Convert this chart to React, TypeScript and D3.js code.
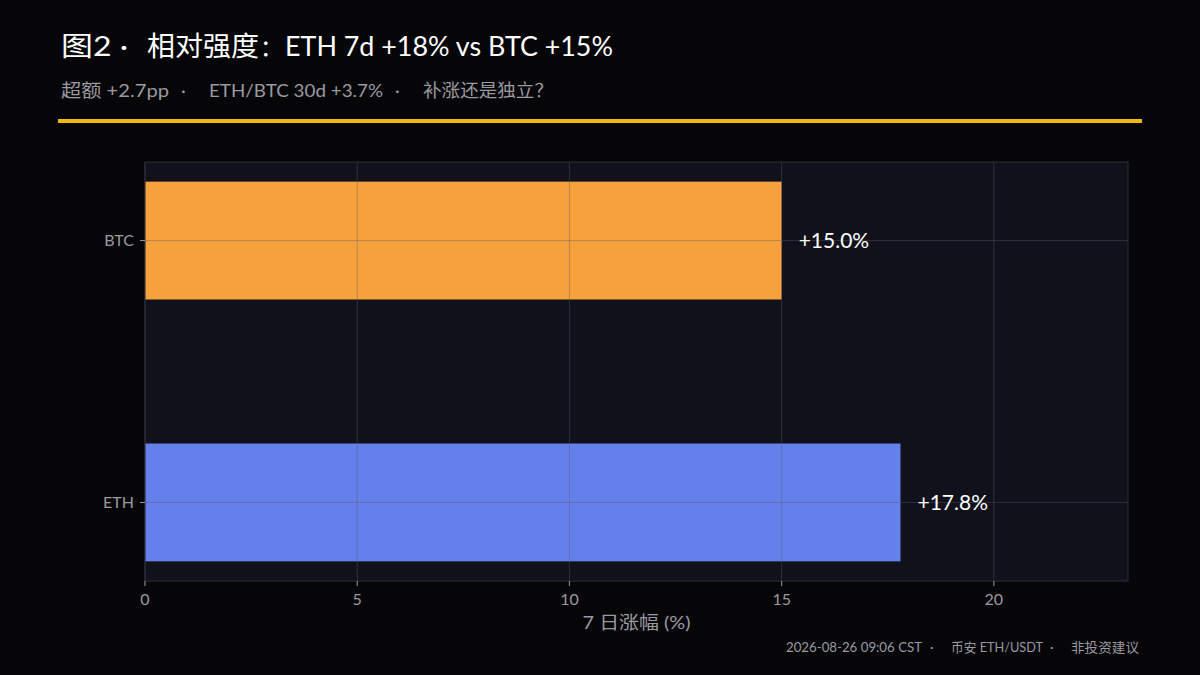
import React from "react";
import * as d3 from "d3";

const categories = ["ETH", "BTC"];
const values = [17.8, 15.0];
const barColors = ["#6580ea", "#f7a13d"];
const xTicks = [0, 5, 10, 15, 20];
const titleParts = ["图2 ·", "相对强度", "：", "ETH 7d +18% vs BTC +15%"];
const subtitleParts = ["超额 +2.7pp", "·", "ETH/BTC 30d +3.7%", "·", "补涨还是独立？"];
const xLabel = "7 日涨幅 (%)";
const footerParts = ["2026-08-26 09:06 CST", "·", "币安 ETH/USDT", "·", "非投资建议"];

const W = 1200;
const H = 675;
const FONT = "Lato, 'Noto Sans CJK SC', sans-serif";

// layout of text segments: [x, width, fontScale]
const titleLayout: [number, number, number][] = [[61, 67, 1], [147, 112, 1], [260, 0, 0.85], [285, 328, 1]];
const subLayout: [number, number, number][] = [[61, 108, 1], [181, 0, 1], [209, 174, 1], [395, 0, 1], [423, 130, 1]];
const footLayout: [number, number, number][] = [[786, 136, 1], [930, 0, 1], [951, 92, 1], [1050, 0, 1], [1071, 68, 1]];

function Segs({ parts, layout, y, size, fill }: { parts: string[]; layout: [number, number, number][]; y: number; size: number; fill: string }) {
  return (
    <g>
      {parts.map((p, i) => (
        <text key={i} x={layout[i][0]} y={y} fill={fill} fontSize={size * layout[i][2]} fontFamily={FONT}
          textLength={layout[i][1] > 0 ? layout[i][1] : undefined} lengthAdjust="spacingAndGlyphs">{p}</text>
      ))}
    </g>
  );
}

export default function App() {
  const left = 145, right = 1128, top = 162, bottom = 581;
  const x = d3.scaleLinear().domain([0, 23.16]).range([left, right]);
  const y = d3.scaleLinear().domain([-0.3, 1.3]).range([bottom, top]);
  const barH = 0.45;

  return (
    <svg width={W} height={H} style={{ position: "absolute", left: 0, top: 0, background: "#060608" }}>
      <rect x={0} y={0} width={W} height={H} fill="#060608" />
      <Segs parts={titleParts} layout={titleLayout} y={56} size={27} fill="#ffffff" />
      <Segs parts={subtitleParts} layout={subLayout} y={97} size={18} fill="#9a9aa0" />
      <rect x={58} y={119} width={1084} height={4} fill="#f0b90b" />

      <rect x={left} y={top} width={right - left} height={bottom - top} fill="#10111a" />
      {categories.map((c, i) => (
        <rect key={c} x={x(0)} y={y(i + barH / 2)} width={x(values[i]) - x(0)} height={y(i - barH / 2) - y(i + barH / 2)} fill={barColors[i]} />
      ))}
      {xTicks.map((t) => (
        <line key={"gx" + t} x1={x(t)} x2={x(t)} y1={top} y2={bottom} stroke="#5a5d70" strokeOpacity={0.4} strokeWidth={1} />
      ))}
      {categories.map((c, i) => (
        <line key={"gy" + c} x1={left} x2={right} y1={y(i)} y2={y(i)} stroke="#5a5d70" strokeOpacity={0.4} strokeWidth={1} />
      ))}
      <rect x={left} y={top} width={right - left} height={bottom - top} fill="none" stroke="#2c2e38" strokeWidth={1} />

      {xTicks.map((t) => (
        <g key={"xt" + t}>
          <line x1={x(t)} x2={x(t)} y1={bottom} y2={bottom + 5} stroke="#9a9aa0" />
          <text x={x(t)} y={bottom + 24} textAnchor="middle" fill="#9a9aa0" fontSize={16} fontFamily={FONT}>{t}</text>
        </g>
      ))}
      {categories.map((c, i) => (
        <g key={"yt" + c}>
          <line x1={left - 5} x2={left} y1={y(i)} y2={y(i)} stroke="#9a9aa0" />
          <text x={left - 11} y={y(i)} dy="0.35em" textAnchor="end" fill="#9a9aa0" fontSize={16} fontFamily={FONT}>{c}</text>
        </g>
      ))}
      {categories.map((c, i) => (
        <text key={"v" + c} x={x(values[i]) + 17} y={y(i)} dy="0.35em" fill="#ffffff" fontSize={21} fontFamily={FONT}>
          {"+" + values[i].toFixed(1) + "%"}
        </text>
      ))}
      <text x={(left + right) / 2} y={629} textAnchor="middle" fill="#9a9aa0" fontSize={18} fontFamily={FONT}
        textLength={108} lengthAdjust="spacingAndGlyphs">{xLabel}</text>
      <Segs parts={footerParts} layout={footLayout} y={652} size={13} fill="#9a9aa0" />
    </svg>
  );
}
